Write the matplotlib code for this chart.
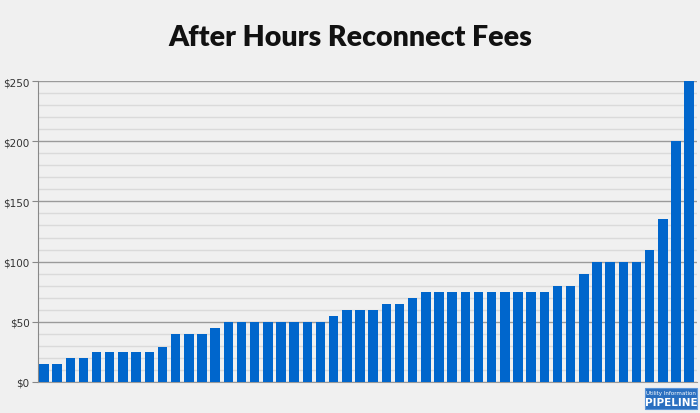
import numpy as np
import matplotlib.pyplot as plt
from matplotlib.patches import Rectangle
from matplotlib.ticker import MultipleLocator, FuncFormatter

# fee values, sorted low to high
fees = [15, 15, 20, 20, 25, 25, 25, 25, 25, 29,
        40, 40, 40, 45, 50, 50, 50, 50, 50, 50,
        50, 50, 55, 60, 60, 60, 65, 65, 70, 75,
        75, 75, 75, 75, 75, 75, 75, 75, 75, 80,
        80, 90, 100, 100, 100, 100, 110, 135, 200, 250]
title = 'After Hours Reconnect Fees'

bg = '#f0f0f0'
fig = plt.figure(figsize=(7, 4.14), dpi=100, facecolor=bg)
ax = fig.add_axes([38 / 700, 1 - 383 / 414, 659 / 700, 301 / 414], facecolor=bg)

x = np.arange(len(fees))
ax.bar(x, fees, width=0.72, color='#0066cc', zorder=3)

ax.set_ylim(0, 250)
ax.set_xlim(-0.45, len(fees) - 0.4)
ax.yaxis.set_major_locator(MultipleLocator(50))
ax.yaxis.set_minor_locator(MultipleLocator(10))
ax.yaxis.set_major_formatter(FuncFormatter(lambda v, p: '${:d}'.format(int(v))))
ax.grid(which='major', axis='y', color='#9a9a9a', linewidth=1.0, zorder=1)
ax.grid(which='minor', axis='y', color='#dadada', linewidth=1.0, zorder=0)
ax.set_xticks([])
ax.tick_params(axis='y', which='major', length=4, color='#888888', labelsize=7.5,
               labelcolor='#333333', pad=2)
ax.tick_params(axis='y', which='minor', length=0)
for s in ['top', 'right']:
    ax.spines[s].set_visible(False)
ax.spines['left'].set_color('#888888')
ax.spines['bottom'].set_color('#9a9a9a')

fig.text(0.5, 1 - 38 / 414, title, ha='center', va='center', fontsize=20.5,
         fontweight='heavy', family='Lato', color='#111111')

# logo box bottom right
fig.patches.append(Rectangle((645 / 700, 1 - 410 / 414), 52 / 700, 21 / 414,
                             transform=fig.transFigure, facecolor='#2a6fc0',
                             edgecolor='#5a94d8', linewidth=0.8))
fig.text(671 / 700, 1 - 393.5 / 414, 'Utility Information', ha='center', va='center',
         fontsize=4, color='white')
fig.text(671 / 700, 1 - 403 / 414, 'PIPELINE', ha='center', va='center',
         fontsize=7.5, color='white', fontweight='bold')

fig.savefig('out.png', dpi=100, facecolor=bg)
